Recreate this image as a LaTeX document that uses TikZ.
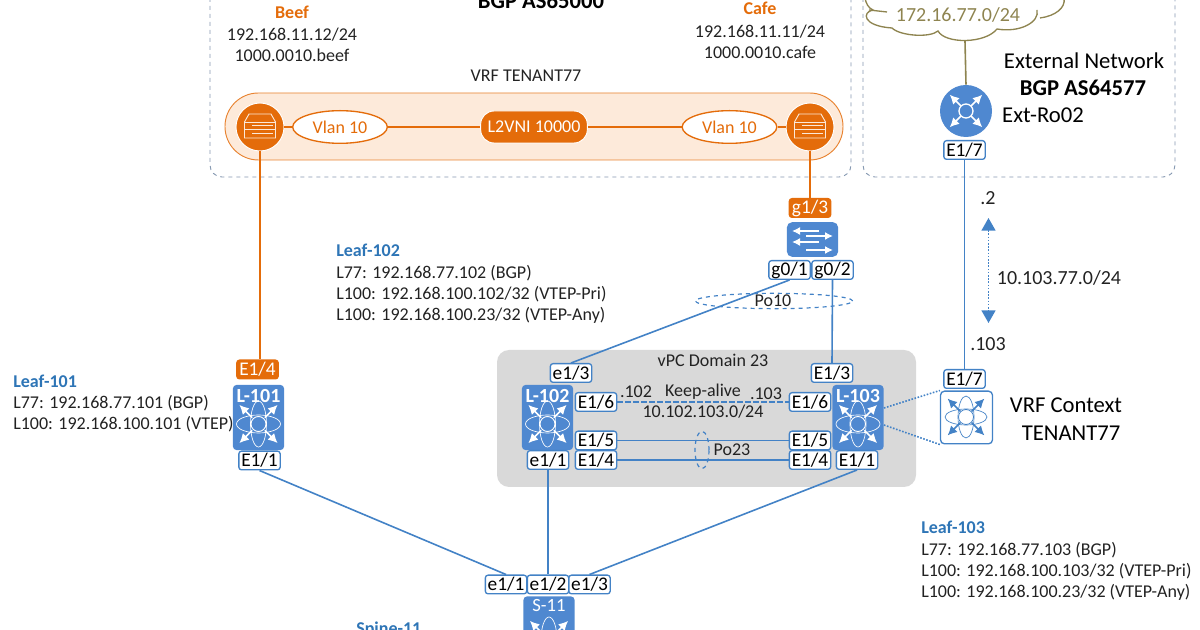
\documentclass[tikz,border=0pt]{standalone}
\usepackage{fontspec}
\setmainfont{Carlito}
\usetikzlibrary{arrows.meta,shapes.geometric}
\definecolor{nxblue}{HTML}{4F88D0}
\definecolor{lnblue}{HTML}{4382C6}
\definecolor{hdblue}{HTML}{2E75B6}
\definecolor{nxorange}{HTML}{E46C0A}
\definecolor{pillfill}{HTML}{FDEADA}
\definecolor{vpcgray}{HTML}{D9D9D9}
\definecolor{frameblue}{HTML}{8497B0}
\definecolor{olive}{HTML}{8E8450}
\definecolor{txt}{HTML}{222222}
\tikzset{
  txtn/.style={inner sep=0pt,text=txt,font=\fontsize{13.5}{16}\selectfont,align=center},
  bign/.style={inner sep=0pt,text=black,font=\fontsize{17}{20}\selectfont,align=center},
  boldn/.style={inner sep=0pt,text=black,font=\fontsize{17}{20}\bfseries\selectfont},
  midn/.style={txtn,font=\fontsize{15}{17}\selectfont},
  block/.style={txtn,align=left,anchor=west},
  port/.style={draw=lnblue,fill=white,line width=1pt,rounded corners=2pt,minimum width=31pt,minimum height=14pt,inner sep=0pt,text=black,font=\fontsize{14.5}{15}\selectfont},
  oport/.style={port,draw=nxorange,fill=nxorange,text=white},
  nxbody/.style={draw=none,fill=nxblue,rounded corners=3pt,minimum width=38.5pt,minimum height=49pt,inner sep=0pt},
  nxlabel/.style={inner sep=0pt,text=white,font=\fontsize{15}{16}\bfseries\selectfont},
  srv/.style={ellipse,draw=white,line width=.7pt,fill=nxorange,minimum width=36pt,minimum height=36pt,inner sep=0pt},
  vlan/.style={ellipse,draw=nxorange,line width=1pt,fill=white,minimum width=71pt,minimum height=24.5pt,inner sep=0pt,text=nxorange,font=\fontsize{13.5}{15}\selectfont},
  vni/.style={draw=white,line width=.7pt,fill=nxorange,rounded corners=10pt,minimum width=80pt,minimum height=24pt,inner sep=0pt,text=white,font=\fontsize{13.5}{15}\selectfont},
  frame/.style={draw=frameblue,dashed,line width=.7pt,rounded corners=9pt},
  wire/.style={draw=lnblue,line width=1.2pt},
  owire/.style={draw=nxorange,line width=.9pt},
  lag/.style={draw=lnblue,dashed,line width=.9pt},
  kawire/.style={draw=lnblue,line width=1.2pt,dash pattern=on 4pt off 2pt},
  dotwire/.style={draw=lnblue,line width=1.2pt,dash pattern=on 1.2pt off 1.2pt},
  dbl/.style={draw=lnblue,line width=1.1pt,dash pattern=on 1.2pt off 1.2pt,{Triangle[length=9.5pt,width=10.5pt]}-{Triangle[length=9.5pt,width=10.5pt]}},
}
\newcommand{\nxglyph}[3]{%
  \begin{scope}[shift={(#1,#2)}]
    \draw[#3,line width=.5pt] (0,0) ellipse (22 and 9);
    \draw[#3,line width=.5pt] (0,0) ellipse (8 and 23);
    \foreach \a in {45,135,225,315}
      \draw[#3,line width=1.1pt,-{Latex[length=7pt,width=7pt]}] (\a:9) -- (\a:27);
    \draw[#3,line width=.7pt] (0,0) circle (7.5);
  \end{scope}}
\newcommand{\srvglyph}[2]{%
  \begin{scope}[shift={(#1,#2)},white!85!nxorange,line width=.7pt]
    \draw (-15.5,-5) -- (-11,-13) -- (11,-13) -- (15.5,-5) -- (15.5,11) -- (-15.5,11) -- cycle;
    \draw (-15.5,-5) -- (15.5,-5) (-15.5,2) -- (15.5,2);
    \draw (-8,-2) -- (13,-2) (-8,6) -- (13,6);
  \end{scope}}
\begin{document}
\begin{tikzpicture}[x=.75pt,y=-.75pt]
\useasboundingbox (0,0) rectangle (1200,630);
\clip (0,0) rectangle (1200,630);
\draw[frame] (210,-30) rectangle (851,177);
\draw[frame] (863,-30) rectangle (1175,177);
\fill[vpcgray,rounded corners=9pt] (497,350) rectangle (916,487);
\draw[nxorange!85!white,fill=pillfill,line width=.7pt,rounded corners=25pt] (225,93) rectangle (843,160);
\node[boldn] (as1) at (541,1) {BGP AS65000};
\node[txtn] (beef) at (292,44.5) {192.168.11.12/24\\1000.0010.beef};
\node[txtn,text=nxorange] (beefh) at (292,12) {\textbf{Beef}};
\node[txtn] (cafe) at (760,41.5) {192.168.11.11/24\\1000.0010.cafe};
\node[txtn,text=nxorange] (cafeh) at (760,8) {\textbf{Cafe}};
\node[txtn] (vrf) at (526,76) {VRF TENANT77};
\node[srv] (s1) at (260,127) {};
\srvglyph{260}{127}
\node[srv] (s2) at (810,127) {};
\srvglyph{810}{127}
\node[vlan] (v1) at (340,127) {Vlan 10};
\node[vlan] (v2) at (729.5,127) {Vlan 10};
\node[vni] (vni) at (534,127) {L2VNI 10000};
\draw[owire] (s1) -- (v1);
\draw[owire] (v1) -- (vni);
\draw[owire] (vni) -- (v2);
\draw[owire] (v2) -- (s2);
\node[oport] (g13) at (810,208) {g1/3};
\node[draw=none,fill=nxblue,rounded corners=4pt,minimum width=38.5pt,minimum height=26pt,inner sep=0pt] (sw) at (812.5,239.5) {};
\begin{scope}[white,line width=1.1pt,-{Latex[length=6pt,width=6pt]}]
  \draw (819,231) -- (792,231);
  \draw (806,236) -- (833,236);
  \draw (819,242) -- (792,242);
  \draw (806,250) -- (833,250);
\end{scope}
\node[port] (g01) at (789.5,270) {g0/1};
\node[port] (g02) at (832.5,270) {g0/2};
\node[ellipse,lag,minimum width=118pt,minimum height=11.5pt,inner sep=0pt] (po10) at (774,301) {};
\node[txtn] (po10t) at (773,301) {Po10};
\node[txtn] (dom) at (713,360) {vPC Domain 23};
\node[nxbody] (l101) at (258.5,417.5) {};
\nxglyph{258.5}{424}{white}
\node[nxlabel] at (258.5,396) {L-101};
\node[oport] (p101a) at (257.5,369.5) {E1/4};
\node[port] (p101b) at (259.5,460.5) {E1/1};
\node[nxbody] (l102) at (547.5,417.5) {};
\nxglyph{547.5}{424}{white}
\node[nxlabel] at (547.5,396) {L-102};
\node[port] (p102u) at (571,373) {e1/3};
\node[port] (p1026) at (596,402) {E1/6};
\node[port] (p1025) at (596,440.5) {E1/5};
\node[port] (p1024) at (596,460) {E1/4};
\node[port] (p102d) at (548,460) {e1/1};
\node[nxbody] (l103) at (858,417.5) {};
\nxglyph{858}{424}{white}
\node[nxlabel] at (858,396) {L-103};
\node[port] (p103u) at (832,373) {E1/3};
\node[port] (p1036) at (810,402) {E1/6};
\node[port] (p1035) at (810,440.5) {E1/5};
\node[port] (p1034) at (810,460) {E1/4};
\node[port] (p103d) at (857,460) {E1/1};
\draw[kawire] (p1026) -- (p1036);
\draw[wire] (p1025) -- (p1035);
\draw[wire] (p1024) -- (p1034);
\node[ellipse,lag,fill=none,minimum width=10.5pt,minimum height=28pt,inner sep=0pt] (po23) at (702,450) {};
\node[txtn] (po23t) at (732,450) {Po23};
\node[txtn] (ka1) at (636,392) {.102};
\node[txtn] (ka2) at (703,392) {Keep-alive};
\node[txtn] (ka3) at (766,394) {.103};
\node[txtn] (ka4) at (703,412) {10.102.103.0/24};
\node[draw=lnblue,fill=white,line width=1pt,rounded corners=3pt,minimum width=39pt,minimum height=39.5pt,inner sep=0pt] (vc) at (966.5,417.5) {};
\begin{scope}[shift={(966,417)}]
  \draw[lnblue,line width=.5pt] (0,0) ellipse (21 and 8);
  \draw[lnblue,line width=.5pt] (0,0) ellipse (8 and 21);
  \foreach \a in {45,135,225,315}
    \draw[lnblue,line width=1.1pt,-{Latex[length=7pt,width=7pt]}] (\a:8) -- (\a:26);
  \fill[white] (0,0) circle (7.5);
  \draw[lnblue,line width=.6pt] (0,0) circle (7.5);
\end{scope}
\node[port] (vcp) at (964.5,379) {E1/7};
\draw[dotwire] (l103.east |- 0,408) -- (vc.north west);
\draw[dotwire] (l103.east |- 0,425) -- (vc.south west);
\node[bign] (vct) at (1066,419) {VRF Context\\[1pt]\ \ TENANT77};
\node[circle,fill=nxblue,minimum size=39pt,inner sep=0pt] (ro) at (966,111) {};
\begin{scope}[shift={(966,111)}]
  \foreach \a in {45,135,225,315}
    \draw[white,line width=1.1pt,-{Latex[length=7pt,width=7pt]}] (\a:7) -- (\a:23);
  \draw[white,line width=1pt] (0,0) circle (7);
\end{scope}
\node[port] (rop) at (964.5,150) {E1/7};
\node[midn,text=olive] (net) at (958,15) {172.16.77.0/24};
\coordinate (cb) at (965,41);
\draw[olive,line width=1pt] (865,-2) .. controls (866,3) and (868,8) .. (873,10)
  .. controls (862,12) and (862,26) .. (892,28)
  .. controls (900,36) and (930,38) .. (938,31)
  .. controls (945,44) and (985,44) .. (997,29)
  .. controls (1020,33) and (1040,22) .. (1037,10);
\draw[olive,line width=1pt] (1040,18) .. controls (1055,16) and (1066,8) .. (1064,-2);
\draw[olive,line width=1pt] (869,10) -- (887,12);
\draw[olive,line width=1.2pt] (cb) -- (ro.north);
\node[bign] (extn) at (1084,61) {External Network};
\node[boldn] (bgp) at (1083,88) {BGP AS64577};
\node[bign] (ron) at (1043,115) {Ext-Ro02};
\draw[owire] (s1.south) -- (s1.south |- p101a.north);
\draw[owire] (s2.south) -- (g13.north);
\draw[wire] (g01.south) -- (p102u.north);
\draw[wire] (g02.south) -- (p103u.north);
\draw[wire] (rop) -- (vcp);
\node[midn] (d2) at (988,198) {.2};
\node[midn] (d103) at (988,344) {.103};
\node[midn] (dnet) at (1059,278) {10.103.77.0/24};
\coordinate (da) at (988.5,218);
\coordinate (db) at (988.5,323);
\draw[dbl] (da) -- (db);
\node[nxbody,anchor=north] (s11) at (549,596) {};
\nxglyph{549}{640}{white}
\node[nxlabel,font=\fontsize{14}{15}\selectfont] at (549,606) {S-11};
\node[port] (e1) at (506,584.5) {e1/1};
\node[port] (e2) at (548,584.5) {e1/2};
\node[port] (e3) at (589.5,584.5) {e1/3};
\draw[wire] (p101b.south) -- (e1.north);
\draw[wire] (p102d.south) -- (e2.north);
\draw[wire] (p103d.south) -- (e3.north);
\node[block] (t101) at (13,403.5) {\textcolor{hdblue}{\textbf{Leaf-101}}\\L77: 192.168.77.101 (BGP)\\L100: 192.168.100.101 (VTEP)};
\node[block] (t102) at (336,284) {\textcolor{hdblue}{\textbf{Leaf-102}}\\L77: 192.168.77.102 (BGP)\\L100: 192.168.100.102/32 (VTEP-Pri)\\L100: 192.168.100.23/32 (VTEP-Any)};
\node[block] (t103) at (921,561) {\textcolor{hdblue}{\textbf{Leaf-103}}\\L77: 192.168.77.103 (BGP)\\L100: 192.168.100.103/32 (VTEP-Pri)\\L100: 192.168.100.23/32 (VTEP-Any)};
\node[block] (t11) at (356,630) {\textcolor{hdblue}{\textbf{Spine-11}}};
\end{tikzpicture}
\end{document}
